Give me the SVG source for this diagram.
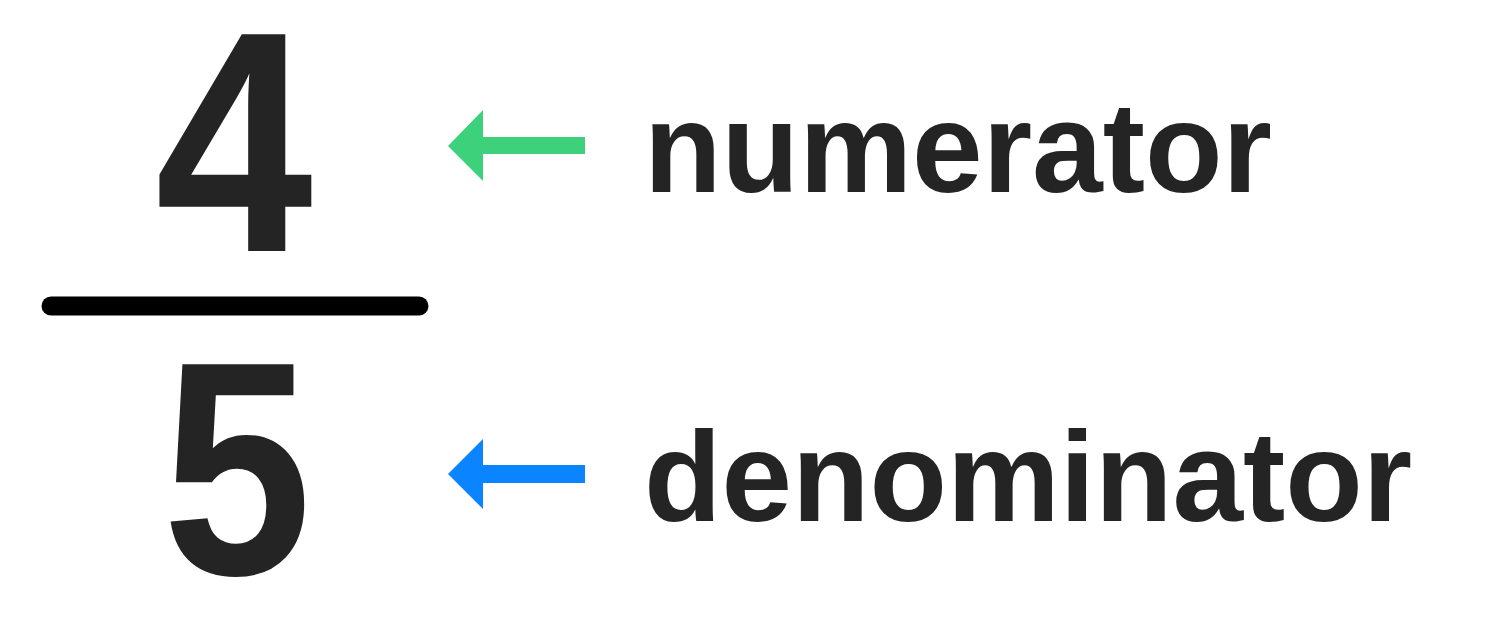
<svg xmlns="http://www.w3.org/2000/svg" width="1500" height="625" viewBox="0 0 1500 625">
<style>
.t{font-family:"Liberation Sans",Arial,sans-serif;font-weight:bold;fill:#242424}
</style>
<rect width="1500" height="625" fill="#fff"/>
<g id="numerator-digit"><text class="t" transform="translate(234 251) scale(0.9 1)" font-size="315" text-anchor="middle">4</text></g>
<g id="bar"><line x1="51" y1="306" x2="419" y2="306" stroke="#000" stroke-width="19" stroke-linecap="round"/></g>
<g id="denominator-digit"><text class="t" transform="translate(237 574) scale(0.88 1)" font-size="305" text-anchor="middle">5</text></g>
<g id="connectors">
<path d="M448 146 L483 110 L483 137 L585 137 L585 154 L483 154 L483 181 Z" fill="#3dd17b"/>
<path d="M448 474 L483 439 L483 465 L585 465 L585 483 L483 483 L483 509 Z" fill="#0a84ff"/>
</g>
<g id="numerator-label"><text class="t" x="644" y="192" font-size="128" textLength="628" lengthAdjust="spacingAndGlyphs">numerator</text></g>
<g id="denominator-label"><text class="t" x="644" y="521" font-size="128" textLength="768" lengthAdjust="spacingAndGlyphs">denominator</text></g>
</svg>
